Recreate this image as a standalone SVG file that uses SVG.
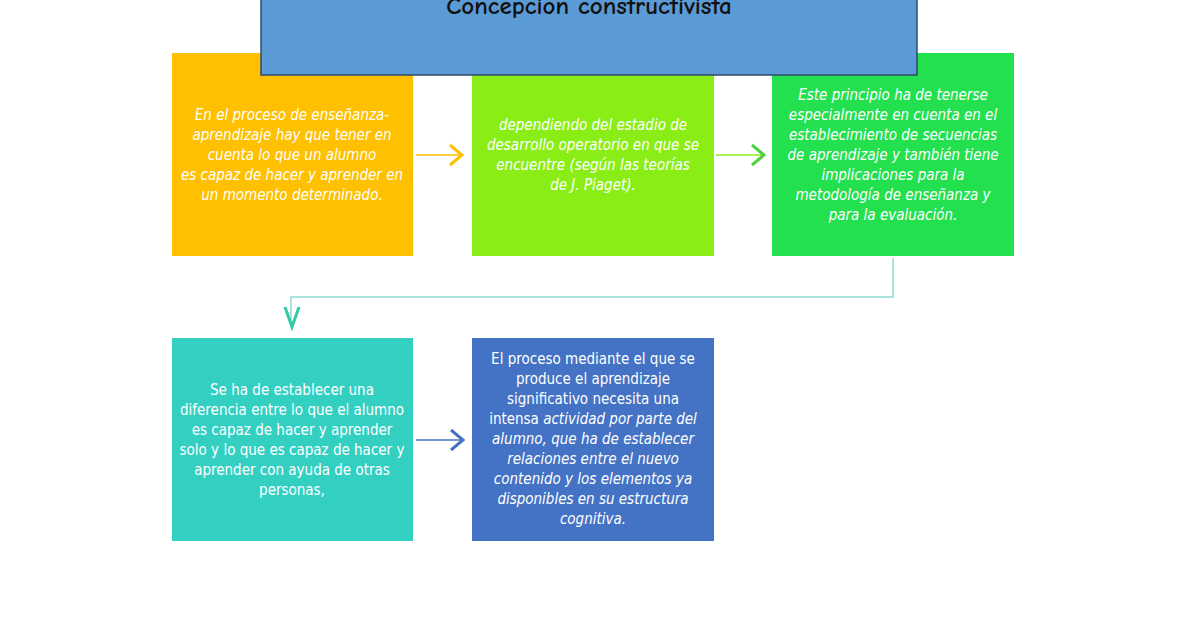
<svg xmlns="http://www.w3.org/2000/svg" width="1200" height="630" viewBox="0 0 1200 630">
<style>
.t{font-family:"DejaVu Sans Condensed","DejaVu Sans",sans-serif;font-stretch:condensed;font-size:15px;fill:#fff;text-anchor:middle}
.i{font-style:italic}
.ln{fill:none;stroke-width:1.5}
.hd{fill:none;stroke-width:3}
</style>
<rect width="1200" height="630" fill="#fff"/>
<g id="n1"><rect x="172" y="53" width="241" height="203" fill="#ffc000"/>
<text class="t i" y="120"><tspan x="292">En el proceso de enseñanza-</tspan><tspan x="292" dy="20">aprendizaje hay que tener en</tspan><tspan x="292" dy="20">cuenta lo que un alumno</tspan><tspan x="292" dy="20">es capaz de hacer y aprender en</tspan><tspan x="292" dy="20">un momento determinado.</tspan></text></g>
<g id="n2"><rect x="472" y="53" width="242" height="203" fill="#8aee16"/>
<text class="t i" y="130"><tspan x="593">dependiendo del estadio de</tspan><tspan x="593" dy="20">desarrollo operatorio en que se</tspan><tspan x="593" dy="20">encuentre (según las teorías</tspan><tspan x="593" dy="20">de J. Piaget).</tspan></text></g>
<g id="n3"><rect x="772" y="53" width="242" height="203" fill="#23e04f"/>
<text class="t i" y="100"><tspan x="893">Este principio ha de tenerse</tspan><tspan x="893" dy="20">especialmente en cuenta en el</tspan><tspan x="893" dy="20">establecimiento de secuencias</tspan><tspan x="893" dy="20">de aprendizaje y también tiene</tspan><tspan x="893" dy="20">implicaciones para la</tspan><tspan x="893" dy="20">metodología de enseñanza y</tspan><tspan x="893" dy="20">para la evaluación.</tspan></text></g>
<g id="n4"><rect x="172" y="338" width="241" height="203" fill="#33d0c2"/>
<text class="t" y="395"><tspan x="292">Se ha de establecer una</tspan><tspan x="292" dy="20">diferencia entre lo que el alumno</tspan><tspan x="292" dy="20">es capaz de hacer y aprender</tspan><tspan x="292" dy="20">solo y lo que es capaz de hacer y</tspan><tspan x="292" dy="20">aprender con ayuda de otras</tspan><tspan x="292" dy="20">personas,</tspan></text></g>
<g id="n5"><rect x="472" y="338" width="242" height="203" fill="#4472c4"/>
<text class="t" y="364"><tspan x="593">El proceso mediante el que se</tspan><tspan x="593" dy="20">produce el aprendizaje</tspan><tspan x="593" dy="20">significativo necesita una</tspan><tspan x="593" dy="20">intensa <tspan class="i">actividad por parte del</tspan></tspan><tspan x="593" dy="20" class="i">alumno, que ha de establecer</tspan><tspan x="593" dy="20" class="i">relaciones entre el nuevo</tspan><tspan x="593" dy="20" class="i">contenido y los elementos ya</tspan><tspan x="593" dy="20" class="i">disponibles en su estructura</tspan><tspan x="593" dy="20" class="i">cognitiva.</tspan></text></g>
<g id="title"><rect x="261" y="-5" width="656" height="80" fill="#5b9bd5" stroke="#2e4a6e" stroke-width="1.5"/>
<text x="589" y="14" font-family="'Comic Neue','DejaVu Sans',sans-serif" font-size="25" font-weight="bold" fill="#111" text-anchor="middle">Concepcion constructivista</text></g>
<g id="connectors">
<path class="ln" stroke="#ffc000" d="M416 155H460"/><path class="hd" stroke="#ffc000" d="M450 145L462 155L450 165"/>
<path class="ln" stroke="#8aee16" d="M716 155H763"/><path class="hd" stroke="#4fd040" d="M752 145L764 155L752 165"/>
<path class="ln" stroke="#8fdcd0" d="M893 258V297H291V325"/><path class="hd" stroke="#33c9a8" d="M285 307L292 327L299 307"/>
<path class="ln" stroke="#4472c4" d="M416 440H462"/><path class="hd" stroke="#4472c4" d="M451 430L463 440L451 450"/>
</g>
</svg>
